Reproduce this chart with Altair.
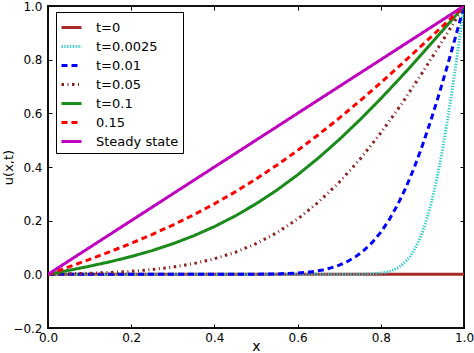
import altair as alt
import pandas as pd

series_names = ["t=0", "t=0.0025", "t=0.01", "t=0.05", "t=0.1", "0.15", "Steady state"]
series_colors = ["#a52a2a", "#33cccc", "#0000ff", "#8b2020", "#1a8a1a", "#ff0000", "#bf00bf"]
series_dashes = [[1, 0], [1.3, 1.5], [6, 4], [2.5, 3.5, 1, 3.5], [1, 0], [6, 4], [1, 0]]

x_t0 = [0.0, 1.0]
u_t0 = [0.0, 0.0]

x_t0025 = [0.0, 0.75, 0.78, 0.80, 0.81, 0.82, 0.83, 0.84, 0.85, 0.86, 0.87, 0.88,
           0.89, 0.90, 0.91, 0.92, 0.93, 0.94, 0.95, 0.96, 0.97, 0.98, 0.99, 1.0]
u_t0025 = [0.0, 0.0004, 0.0015, 0.005, 0.007, 0.011, 0.016, 0.024, 0.034, 0.048, 0.066, 0.090,
           0.120, 0.157, 0.203, 0.258, 0.322, 0.396, 0.480, 0.572, 0.671, 0.777, 0.887, 1.0]

x_t001 = [0.0, 0.50, 0.55, 0.60, 0.62, 0.64, 0.66, 0.68, 0.70, 0.72, 0.74, 0.76,
          0.78, 0.80, 0.82, 0.84, 0.86, 0.88, 0.90, 0.92, 0.94, 0.96, 0.98, 1.0]
u_t001 = [0.0, 0.0004, 0.0015, 0.005, 0.007, 0.011, 0.016, 0.024, 0.034, 0.048, 0.066, 0.090,
          0.120, 0.157, 0.203, 0.258, 0.322, 0.396, 0.480, 0.572, 0.671, 0.777, 0.887, 1.0]

x_grid = [0.0, 0.05, 0.1, 0.15, 0.2, 0.25, 0.3, 0.35, 0.4, 0.45, 0.5,
          0.55, 0.6, 0.65, 0.7, 0.75, 0.8, 0.85, 0.9, 0.95, 1.0]
u_t005 = [0.0, 0.002, 0.004, 0.007, 0.011, 0.018, 0.027, 0.040, 0.058, 0.082, 0.114,
          0.155, 0.206, 0.269, 0.343, 0.429, 0.527, 0.635, 0.752, 0.874, 1.0]
u_t01 = [0.0, 0.0148, 0.0303, 0.0472, 0.0664, 0.0883, 0.1139, 0.1435, 0.1779, 0.2175, 0.2627,
         0.3137, 0.3707, 0.4336, 0.5022, 0.5761, 0.6547, 0.7373, 0.8231, 0.9110, 1.0]
u_t015 = [0.0, 0.0276, 0.0558, 0.0849, 0.1157, 0.1484, 0.1836, 0.2216, 0.2628, 0.3072, 0.3552,
          0.4067, 0.4618, 0.5203, 0.5820, 0.6467, 0.7141, 0.7836, 0.8548, 0.9271, 1.0]
x_steady = [0.0, 1.0]
u_steady = [0.0, 1.0]

y_ticks = [-0.2, 0.0, 0.2, 0.4, 0.6, 0.8, 1.0]
x_ticks = [0.0, 0.2, 0.4, 0.6, 0.8, 1.0]

rows = []
for name, xs, us in [
    ("t=0", x_t0, u_t0),
    ("t=0.0025", x_t0025, u_t0025),
    ("t=0.01", x_t001, u_t001),
    ("t=0.05", x_grid, u_t005),
    ("t=0.1", x_grid, u_t01),
    ("0.15", x_grid, u_t015),
    ("Steady state", x_steady, u_steady),
]:
    for xv, uv in zip(xs, us):
        rows.append({"series": name, "x": xv, "u": uv})
df = pd.DataFrame(rows)

FONT = "DejaVu Sans"

xscale = alt.Scale(domain=[0, 1], nice=False, zero=False)
yscale = alt.Scale(domain=[-0.2, 1.0], nice=False, zero=False)

common_axis = dict(grid=False, domain=False, tickSize=4, tickColor="black", tickWidth=1,
                   offset=-4, labelFont=FONT, labelFontSize=12, labelColor="black",
                   labelFlush=False, labelOverlap=False,
                   titleFont=FONT, titleColor="black", titleFontWeight="normal")

legend_opts = dict(title=None, orient="none", legendX=8, legendY=6,
                   strokeColor="black", fillColor="white", padding=4,
                   symbolType="stroke", symbolStrokeWidth=3, symbolSize=400,
                   labelFont=FONT, labelFontSize=13, labelColor="black",
                   labelOffset=13, rowPadding=0, cornerRadius=0)

lines = alt.Chart(df).mark_line(strokeWidth=3, clip=True, strokeCap="butt").encode(
    x=alt.X("x:Q", scale=xscale,
            axis=alt.Axis(values=x_ticks, format=".1f", title="x", orient="bottom",
                          labelPadding=4, titleFontSize=14, titleX=208, titleY=26,
                          titleBaseline="alphabetic", **common_axis)),
    y=alt.Y("u:Q", scale=yscale,
            axis=alt.Axis(values=y_ticks, format=".1f", title="u(x,t)", orient="left",
                          labelPadding=6, titleFontSize=13, titleX=-37, titleY=161,
                          titleBaseline="bottom", **common_axis)),
    color=alt.Color("series:N", scale=alt.Scale(domain=series_names, range=series_colors),
                    legend=alt.Legend(**legend_opts)),
    strokeDash=alt.StrokeDash("series:N", scale=alt.Scale(domain=series_names, range=series_dashes),
                              legend=alt.Legend(**legend_opts)),
    order=alt.Order("x:Q"),
)

frame_axes = alt.Chart(df).mark_point(opacity=0).encode(
    x=alt.X("x:Q", scale=xscale,
            axis=alt.Axis(values=x_ticks, labels=False, title=None, orient="top", **common_axis)),
    y=alt.Y("u:Q", scale=yscale,
            axis=alt.Axis(values=y_ticks, labels=False, title=None, orient="right", **common_axis)),
)

chart = alt.layer(lines, frame_axes).resolve_axis(x="independent", y="independent").properties(
    width=416, height=322,
    padding={"left": 48, "top": 6, "right": 10, "bottom": 25},
    autosize=alt.AutoSizeParams(type="none"),
    background="white",
).configure_view(stroke="#111111", strokeWidth=2)

chart.save("out.html", embed_options={"renderer": "svg", "actions": False})
